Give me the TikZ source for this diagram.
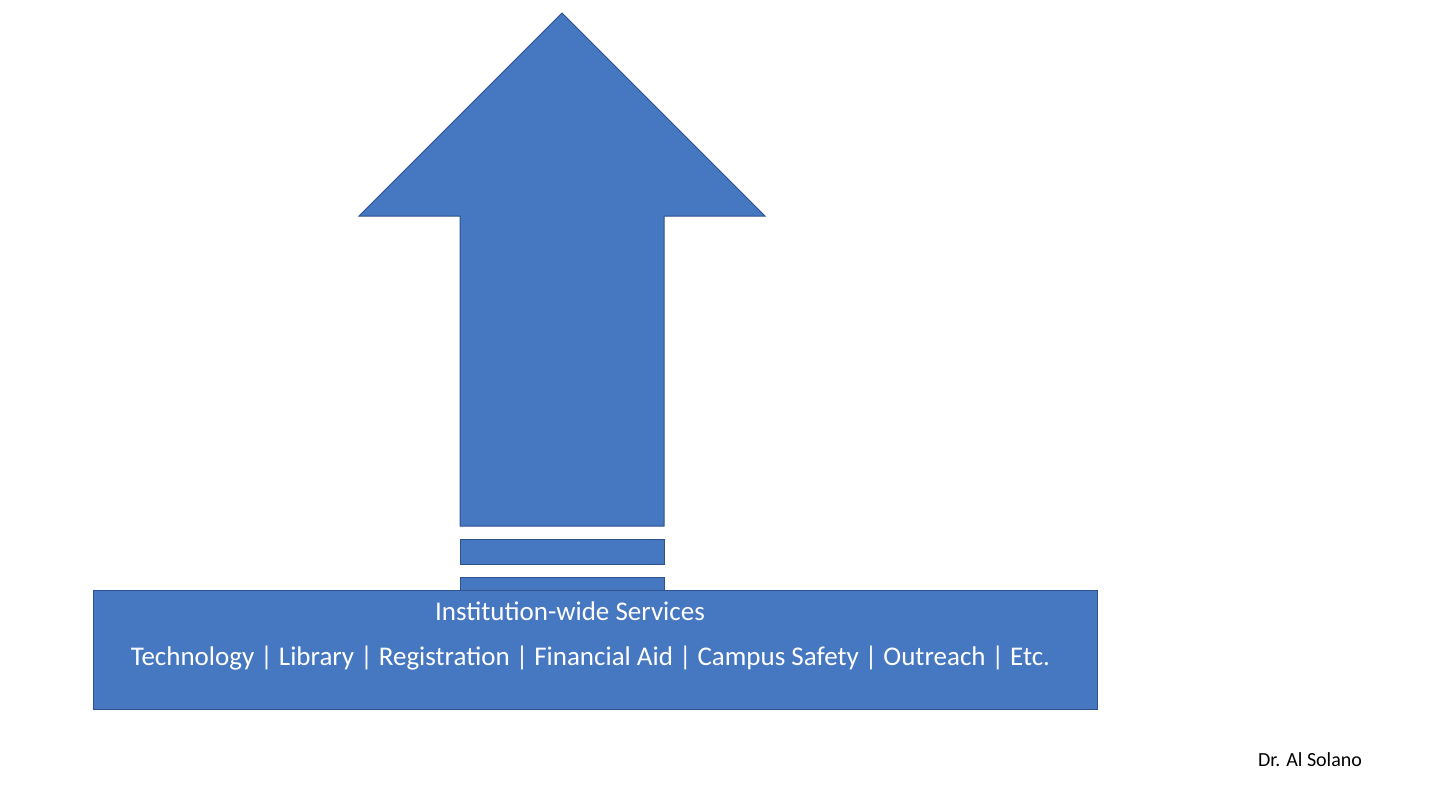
\documentclass[tikz,border=0pt]{standalone}
\usepackage{fontspec}
\setmainfont{Carlito}
\definecolor{slideblue}{HTML}{4677C1}
\definecolor{slideedge}{HTML}{2F528F}
\tikzset{
    bluebox/.style={fill=slideblue, draw=slideedge, line width=1pt},
    whitetext/.style={text=white, font=\fontsize{27}{32}\selectfont, inner sep=0pt, anchor=base}
}
\begin{document}
\begin{tikzpicture}[x=1pt, y=-1pt]
    \useasboundingbox (0,0) rectangle (1440,796);
    % the upward arrow
    \draw[bluebox] (562,13) -- (765,216) -- (664,216) -- (664,526) -- (460,526) -- (460,216) -- (359,216) -- cycle;
    % stacked bars below the arrow
    \draw[bluebox] (460,539) rectangle (664,564);
    \draw[bluebox] (460,577) rectangle (664,600);
    % services box
    \node[bluebox, minimum width=1004pt, minimum height=119pt, inner sep=0pt] (services) at (595,649.5) {};
    \node[whitetext] (title) at (570,620) {Institution-wide Services};
    \node[whitetext] (list) at (590.5,665) {Technology | Library | Registration | Financial Aid | Campus Safety | Outreach | Etc.};
    \node[font=\fontsize{20}{24}\selectfont, inner sep=0pt, anchor=base] (author) at (1310,766) {Dr. Al Solano};
\end{tikzpicture}
\end{document}
